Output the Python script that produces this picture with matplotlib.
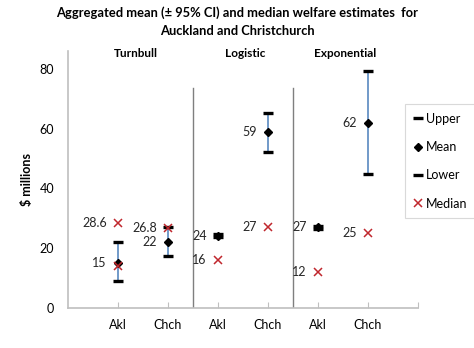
import matplotlib

matplotlib.use("Agg")
import matplotlib.pyplot as plt
from matplotlib.lines import Line2D

plt.rcParams["font.family"] = ["Lato", "DejaVu Sans"]

# data
models = ["Turnbull", "Logistic", "Exponential"]
sites = ["Akl", "Chch", "Akl", "Chch", "Akl", "Chch"]
means = [15, 22, 24, 59, 27, 62]
upper = [22, 27, 24.6, 65.3, 27.6, 79.3]
lower = [9, 17.3, 23.6, 52.3, 26.3, 45]
medians = [28.6, 26.8, 16, 27, 12, 25]
mean_labels = ["15", "22", "24", "59", "27", "62"]
median_labels = ["28.6", "26.8", "16", "27", "12", "25"]
# second, unlabelled median marker drawn under the Turnbull Akl mean
extra_median = (0, 14.2)

blue = "#4a7ebb"
red = "#c0272d"
grey = "#bfbfbf"

fig = plt.figure(figsize=(4.74, 3.48), dpi=100)
ax = fig.add_axes([68 / 474, 1 - 308 / 348, 350 / 474, 257 / 348])

xs = [i + 1 for i in range(len(sites))]

for x, m, lo, hi in zip(xs, means, lower, upper):
    ax.plot([x, x], [lo, hi], color=blue, lw=1.1, zorder=2)
    ax.plot([x, x], [lo, hi], ls="none", marker="_", ms=7.5, mew=2.4,
            color="black", zorder=3)
ax.plot(xs, means, ls="none", marker="D", ms=4, color="black", zorder=4)
ax.plot(xs, medians, ls="none", marker="x", ms=6, mew=1.1, color=red, zorder=5)
ax.plot(xs[extra_median[0]], extra_median[1], ls="none", marker="x", ms=6,
        mew=1.1, color=red, zorder=5)

for x, v, s in zip(xs, means, mean_labels):
    ax.annotate(s, (x, v), xytext=(-8, 0), textcoords="offset points",
                ha="right", va="center", fontsize=9, color="#262626")
for x, v, s in zip(xs, medians, median_labels):
    ax.annotate(s, (x, v), xytext=(-8, 0), textcoords="offset points",
                ha="right", va="center", fontsize=9, color="#262626")

# panel separators and headings
for sx in [2.5, 4.5]:
    ax.plot([sx, sx], [0, 73.5], color="#7f7f7f", lw=1, zorder=1)
for px, name in zip([1.35, 3.55, 5.55], models):
    ax.text(px, 85, name, ha="center", va="center", fontsize=8.5,
            fontweight="bold")

ax.set_xlim(0, 7)
ax.set_ylim(0, 86)
ax.set_yticks([0, 20, 40, 60, 80])
ax.set_xticks(xs + [7])
ax.set_xticklabels(sites + [""])
ax.tick_params(axis="x", direction="in", length=4, color=grey, labelsize=9,
               pad=8)
ax.tick_params(axis="y", length=0, labelsize=9, pad=10)
for sp in ["top", "right"]:
    ax.spines[sp].set_visible(False)
for sp in ["left", "bottom"]:
    ax.spines[sp].set_color(grey)
    ax.spines[sp].set_linewidth(1.2)

ax.set_ylabel("$ millions", fontsize=9, fontweight="bold", labelpad=5)

fig.text(0.5, 1 - 13 / 348, "Aggregated mean (\u00b1 95% CI) and median welfare estimates  for",
         ha="center", va="center", fontsize=9.3, fontweight="bold")
fig.text(0.5, 1 - 31 / 348, "Auckland and Christchurch",
         ha="center", va="center", fontsize=9.3, fontweight="bold")

handles = [
    Line2D([], [], ls="none", marker="_", ms=7, mew=2.4, color="black"),
    Line2D([], [], ls="none", marker="D", ms=4.5, color="black"),
    Line2D([], [], ls="none", marker="_", ms=7, mew=2.4, color="black"),
    Line2D([], [], ls="none", marker="x", ms=5.5, mew=1.1, color=red),
]
leg = fig.legend(handles, ["Upper", "Mean", "Lower", "Median"],
                 loc="upper left", bbox_to_anchor=(405 / 474, 1 - 104 / 348),
                 fontsize=9, frameon=True, fancybox=False, labelspacing=1.3,
                 handlelength=0.6, handletextpad=0.4, borderpad=0.7,
                 borderaxespad=0)
leg.get_frame().set_edgecolor("#d0d0d0")
leg.get_frame().set_linewidth(0.8)

fig.savefig("out.png", dpi=100)
